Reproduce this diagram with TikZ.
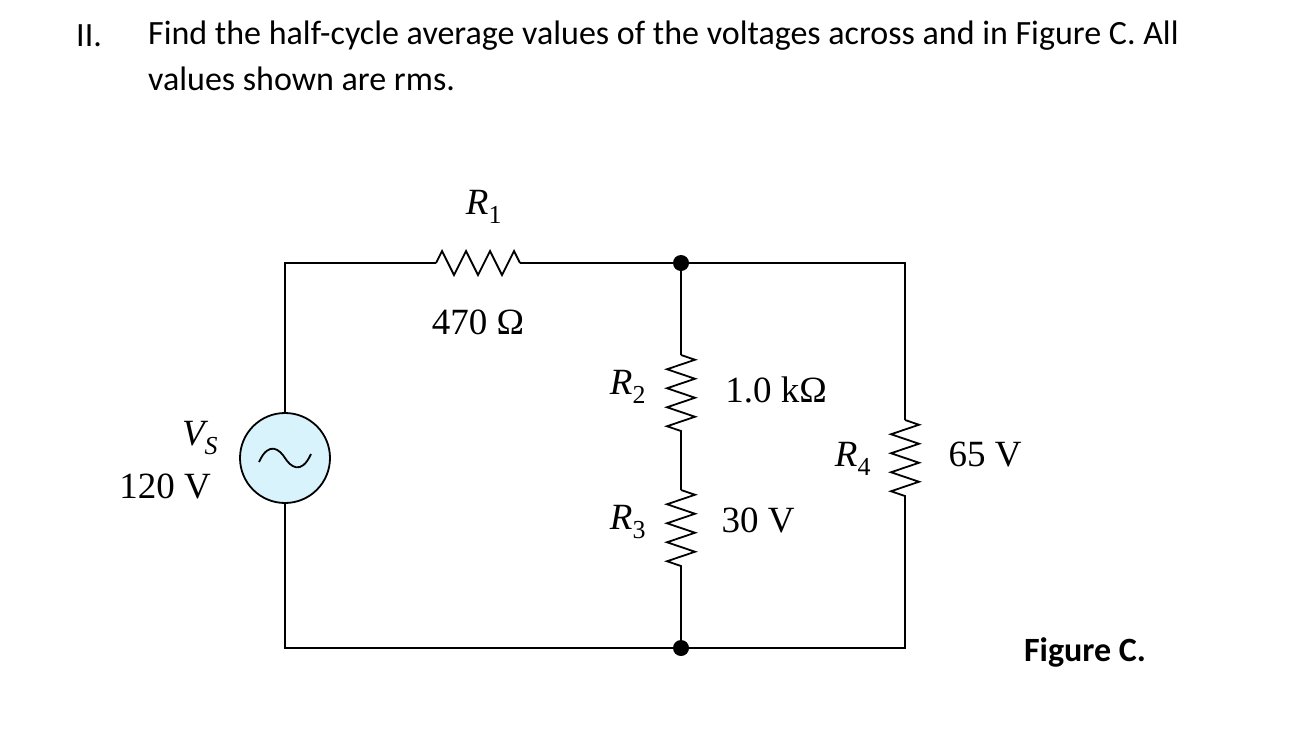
\documentclass[tikz,border=0pt]{standalone}
\usepackage{fontspec}
\setmainfont{Carlito}
\newfontfamily\circfont{Liberation Serif}
\usetikzlibrary{decorations.pathmorphing,calc}
\newcommand{\rname}[1]{\textit{R}\textsubscript{#1}}
\begin{document}
\begin{tikzpicture}[x=1pt,y=-1pt,
  wire/.style={line width=1.8pt},
  res/.style={line width=1.8pt,decorate,decoration={zigzag,segment length=19pt,amplitude=14pt}},
  lbl/.style={font=\circfont\fontsize{37}{40}\selectfont,inner sep=0pt},
  qtext/.style={anchor=west,font=\fontsize{34}{40}\selectfont,inner sep=0pt},
  dot/.style={circle,fill=black,inner sep=0pt,minimum size=16pt}]
   \useasboundingbox (0,0) rectangle (1312,742);
   % question text
   \node[qtext] (num) at (76,36) {II.};
   \node[qtext] (q1) at (148,36) {Find the half-cycle average values of the voltages across and in Figure C. All};
   \node[qtext] (q2) at (148,79) {values shown are rms.};
   % corners and nodes
   \coordinate (tl) at (285,263);
   \coordinate (bl) at (285,648);
   \coordinate (tr) at (905,263);
   \coordinate (br) at (905,648);
   \node[dot] (top) at (681,263) {};
   \node[dot] (bottom) at (681,648) {};
   \node[circle,draw,line width=1.8pt,fill=cyan!15,minimum size=90pt] (src) at (285,458) {};
   \coordinate (r1a) at (436,263);
   \coordinate (r1b) at (520,263);
   \coordinate (r2a) at (681,355);
   \coordinate (r2b) at (681,432);
   \coordinate (r3a) at (681,490);
   \coordinate (r3b) at (681,567);
   \coordinate (r4a) at (905,420);
   \coordinate (r4b) at (905,505);
   % wires
   \draw[wire] (src)--(tl)--(r1a);
   \draw[wire] (r1b)--(top)--(tr)--(r4a);
   \draw[wire] (r4b)--(br)--(bottom)--(bl)--(src);
   \draw[wire] (top)--(r2a);
   \draw[wire] (r2b)--(r3a);
   \draw[wire] (r3b)--(bottom);
   \draw[res,decoration={segment length=24pt,amplitude=12pt}] (r1a)--(r1b);
   \draw[res] (r2a)--(r2b);
   \draw[res] (r3a)--(r3b);
   \draw[res] (r4a)--(r4b);
   \draw[line width=1.8pt] ($(src)+(-26,4)$) .. controls ($(src)+(-16,-18)$) and ($(src)+(-5,-8)$) .. (src.center)
      .. controls ($(src)+(5,8)$) and ($(src)+(16,18)$) .. ($(src)+(26,-4)$);
   % labels
   \node[lbl] (lr1) at (484,207) {\rname{1}};
   \node[lbl] (vr1) at (478,322) {470 Ω};
   \node[lbl] (lr2) at (628,387) {\rname{2}};
   \node[lbl] (vr2) at (776,390) {1.0 kΩ};
   \node[lbl] (lr3) at (628,522) {\rname{3}};
   \node[lbl] (vr3) at (758,520) {30 V};
   \node[lbl] (lr4) at (853,459) {\rname{4}};
   \node[lbl] (vr4) at (985,455) {65 V};
   \node[lbl] (lvs) at (200,438) {\textit{V}\kern-0.1em\textsubscript{\textit{S}}};
   \node[lbl] (vvs) at (165,486) {120 V};
   \node[font=\bfseries\fontsize{34}{40}\selectfont] (fig) at (1085,652) {Figure C.};
\end{tikzpicture}
\end{document}
